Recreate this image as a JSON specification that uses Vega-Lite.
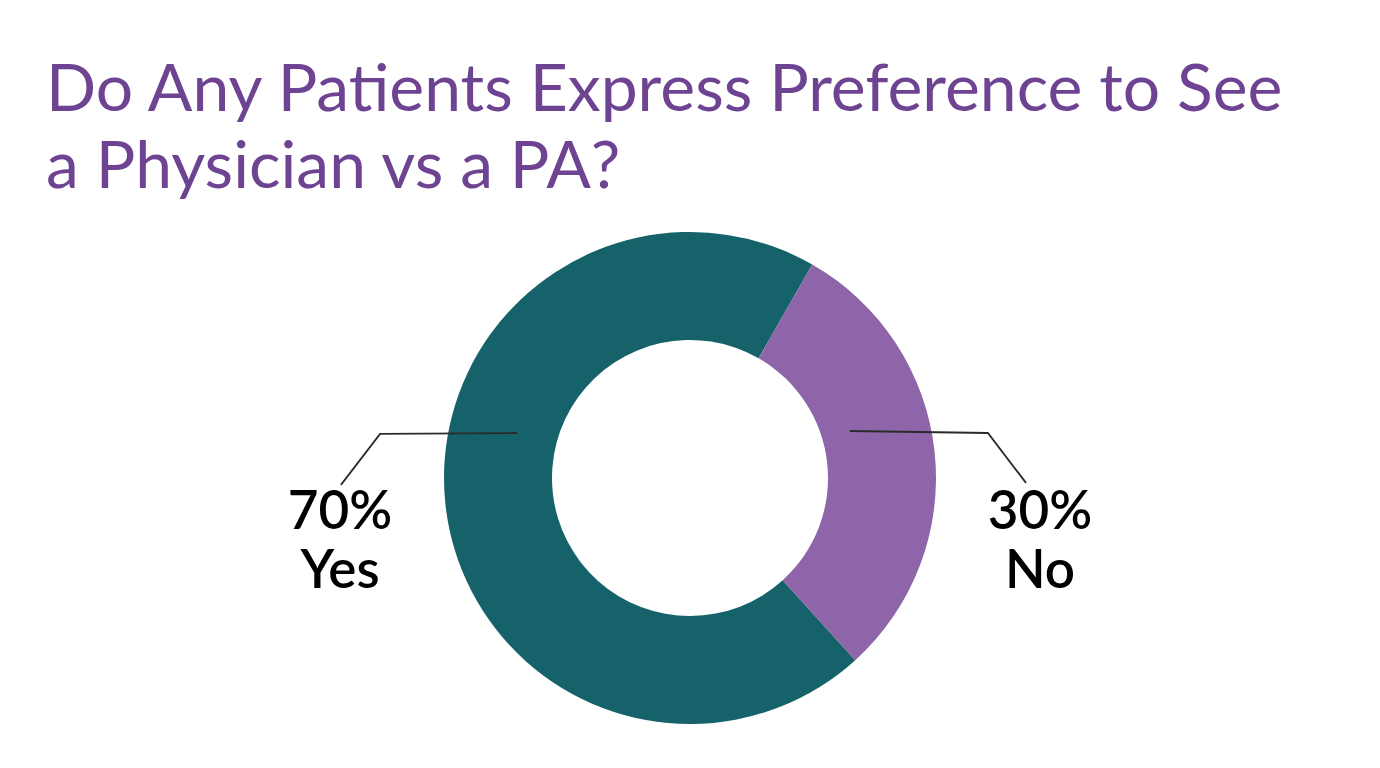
{
  "$schema": "https://vega.github.io/schema/vega-lite/v6.json",
  "width": 1380,
  "height": 496,
  "autosize": "none",
  "padding": {"top": 230, "left": 0, "right": 0, "bottom": 42},
  "background": "white",
  "config": {"view": {"stroke": null}},
  "title": {
    "text": ["Do Any Patients Express Preference to See", "a Physician vs a PA?"],
    "anchor": "start",
    "frame": "group",
    "dx": 46,
    "dy": 66,
    "offset": 42,
    "font": "Lato",
    "fontSize": 66,
    "fontWeight": "normal",
    "lineHeight": 77,
    "color": "#6d4392",
    "baseline": "alphabetic"
  },
  "datasets": {
    "slices": [
      {"answer": "Yes", "pct": 70},
      {"answer": "No", "pct": 30}
    ],
    "leaders": [
      {"side": "Yes", "step": 1, "px": -0.703, "py": 0.183},
      {"side": "Yes", "step": 2, "px": -1.26, "py": 0.179},
      {"side": "Yes", "step": 3, "px": -1.419, "py": -0.028},
      {"side": "No", "step": 1, "px": 0.65, "py": 0.191},
      {"side": "No", "step": 2, "px": 1.211, "py": 0.183},
      {"side": "No", "step": 3, "px": 1.366, "py": -0.02}
    ],
    "labels": [
      {"label": "70%", "px": -1.423, "py": -0.207},
      {"label": "Yes", "px": -1.423, "py": -0.447},
      {"label": "30%", "px": 1.423, "py": -0.207},
      {"label": "No", "px": 1.423, "py": -0.447}
    ]
  },
  "layer": [
    {
      "data": {"name": "slices"},
      "mark": {"type": "arc", "outerRadius": 246, "innerRadius": 138},
      "encoding": {
        "theta": {
          "field": "pct",
          "type": "quantitative",
          "stack": true,
          "scale": {"range": [0.52, 6.8032]}
        },
        "order": {"field": "answer", "sort": "ascending"},
        "color": {
          "field": "answer",
          "type": "nominal",
          "scale": {"domain": ["No", "Yes"], "range": ["#8f65a9", "#16626b"]},
          "legend": null
        }
      }
    },
    {
      "data": {"name": "leaders"},
      "mark": {"type": "line", "stroke": "#2b2b2b", "strokeWidth": 1.8},
      "encoding": {
        "x": {"field": "px", "type": "quantitative", "scale": {"domain": [-2.805, 2.805], "nice": false, "zero": false}, "axis": null},
        "y": {"field": "py", "type": "quantitative", "scale": {"domain": [-1.008, 1.008], "nice": false, "zero": false}, "axis": null},
        "detail": {"field": "side"},
        "order": {"field": "step"}
      }
    },
    {
      "data": {"name": "labels"},
      "mark": {
        "type": "text",
        "font": "Lato",
        "fontSize": 53,
        "fontWeight": 600,
        "color": "black",
        "align": "center",
        "baseline": "alphabetic"
      },
      "encoding": {
        "x": {"field": "px", "type": "quantitative"},
        "y": {"field": "py", "type": "quantitative"},
        "text": {"field": "label"}
      }
    }
  ]
}
